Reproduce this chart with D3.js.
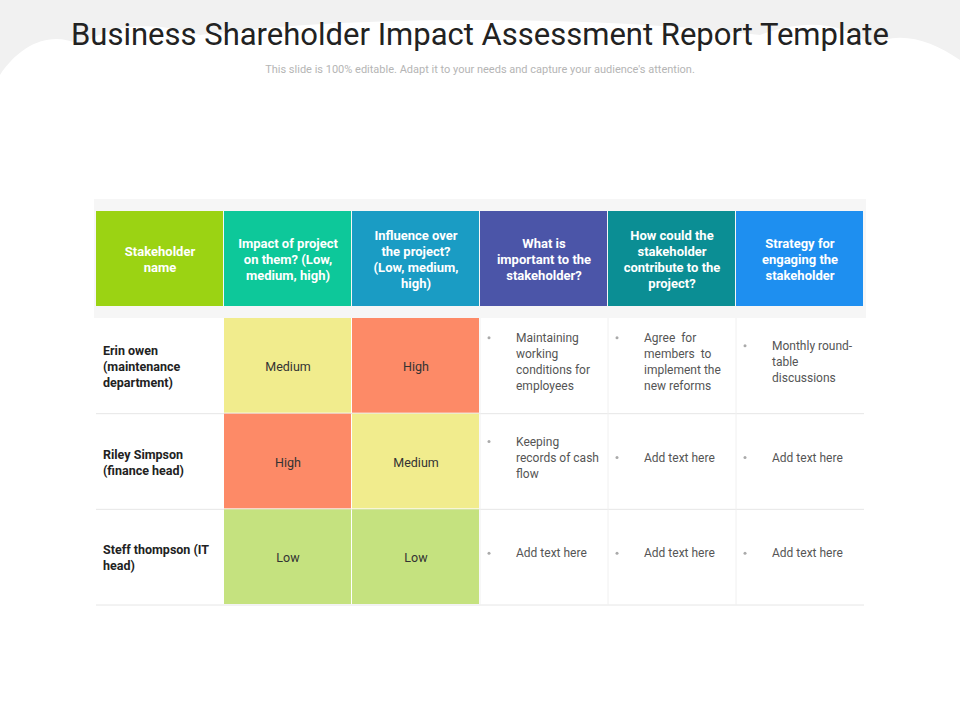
<!DOCTYPE html>
<html><head><meta charset="utf-8">
<script src="https://cdn.jsdelivr.net/npm/d3@7"></script>
<style>body{margin:0;background:#fff}svg{display:block}</style>
</head><body><svg id="c" width="960" height="720"></svg>
<script>
const headers = ["Stakeholder name","Impact of project on them? (Low, medium, high)","Influence over the project? (Low, medium, high)","What is important to the stakeholder?","How could the stakeholder contribute to the project?","Strategy for engaging the stakeholder"];
const headerLines = [["Stakeholder","name"],["Impact of project","on them? (Low,","medium, high)"],["Influence over","the project?","(Low, medium,","high)"],["What is","important to the","stakeholder?"],["How could the","stakeholder","contribute to the","project?"],["Strategy for","engaging the","stakeholder"]];
const headerColors = ["#9bd313","#0dc89a","#1a9cc4","#4b55a8","#0b8e94","#1e8ff0"];
const names = [["Erin owen","(maintenance","department)"],["Riley Simpson","(finance head)"],["Steff thompson (IT","head)"]];
const impact = ["Medium","High","Low"];
const influence = ["High","Medium","Low"];
const important = [["Maintaining","working","conditions for","employees"],["Keeping","records of cash","flow"],["Add text here"]];
const contribute = [["Agree  for","members  to","implement the","new reforms"],["Add text here"],["Add text here"]];
const strategy = [["Monthly round-","table","discussions"],["Add text here"],["Add text here"]];
const levelColor = {High:"#fd8a67",Medium:"#f1ec8d",Low:"#c5e27f"};

const svg = d3.select("#c");
// background cloud shapes
svg.append("path").attr("d","M0,0 H960 V60 C930,40 900,30 870,45 C840,20 800,20 760,35 C600,15 350,15 200,35 C150,20 110,25 80,45 C50,30 20,45 0,75 Z").attr("fill","#f1f1f1");
svg.append("text").attr("x",480).attr("y",45).attr("text-anchor","middle").attr("font-family","'Liberation Sans Narrow',Roboto,sans-serif").attr("font-size",31).attr("fill","#222").text("Business Shareholder Impact Assessment Report Template");
svg.append("text").attr("x",480).attr("y",73).attr("text-anchor","middle").attr("font-family","Roboto,sans-serif").attr("font-size",11).attr("fill","#b5b5b5").text("This slide is 100% editable. Adapt it to your needs and capture your audience's attention.");

const x = d3.scaleBand().domain(d3.range(6)).range([96,864]);
const y = d3.scaleBand().domain(d3.range(3)).range([318,605]);
const hy0=211, hy1=306;
svg.append("rect").attr("x",94).attr("y",199).attr("width",772).attr("height",119).attr("fill","#f6f6f6");
const hg = svg.append("g").attr("font-family","Roboto,sans-serif");
headers.forEach((h,i)=>{
  hg.append("rect").attr("x",x(i)).attr("y",hy0).attr("width",x.bandwidth()-1).attr("height",hy1-hy0).attr("fill",headerColors[i]);
  const ls=headerLines[i], lh=16, cy=(hy0+hy1)/2 - (ls.length-1)*lh/2 + 5;
  ls.forEach((l,k)=>hg.append("text").attr("x",x(i)+x.bandwidth()/2).attr("y",cy+k*lh).attr("text-anchor","middle").attr("font-size",13).attr("font-weight","bold").attr("fill","#fff").text(l));
});
const bg = svg.append("g").attr("font-family","Roboto,sans-serif");
names.forEach((n,r)=>{
  const y0=y(r), h=y.bandwidth(), cy=y0+h/2;
  // grid lines
  bg.append("line").attr("x1",96).attr("x2",864).attr("y1",y0+h).attr("y2",y0+h).attr("stroke","#e6e6e6");
  [3,4,5].forEach(c=>bg.append("line").attr("x1",x(c)).attr("x2",x(c)).attr("y1",y0).attr("y2",y0+h).attr("stroke","#f0f0f0"));
  n.forEach((l,k)=>bg.append("text").attr("x",103).attr("y",cy-(n.length-1)*8+5+k*16).attr("font-size",12.5).attr("font-weight","bold").attr("fill","#222").text(l));
  [[1,impact[r]],[2,influence[r]]].forEach(([c,v])=>{
    bg.append("rect").attr("x",x(c)).attr("y",y0).attr("width",x.bandwidth()-1).attr("height",h-1).attr("fill",levelColor[v]);
    bg.append("text").attr("x",x(c)+x.bandwidth()/2).attr("y",cy+5).attr("text-anchor","middle").attr("font-size",12.5).attr("fill","#333").text(v);
  });
  [[3,important[r]],[4,contribute[r]],[5,strategy[r]]].forEach(([c,ls])=>{
    const top=cy-(ls.length-1)*8;
    bg.append("circle").attr("cx",x(c)+9).attr("cy",top-4).attr("r",1.5).attr("fill","#aaa");
    ls.forEach((l,k)=>bg.append("text").attr("x",x(c)+36).attr("y",top+k*16).attr("font-size",12).attr("fill","#555").attr("xml:space","preserve").text(l));
  });
});
</script></body></html>
